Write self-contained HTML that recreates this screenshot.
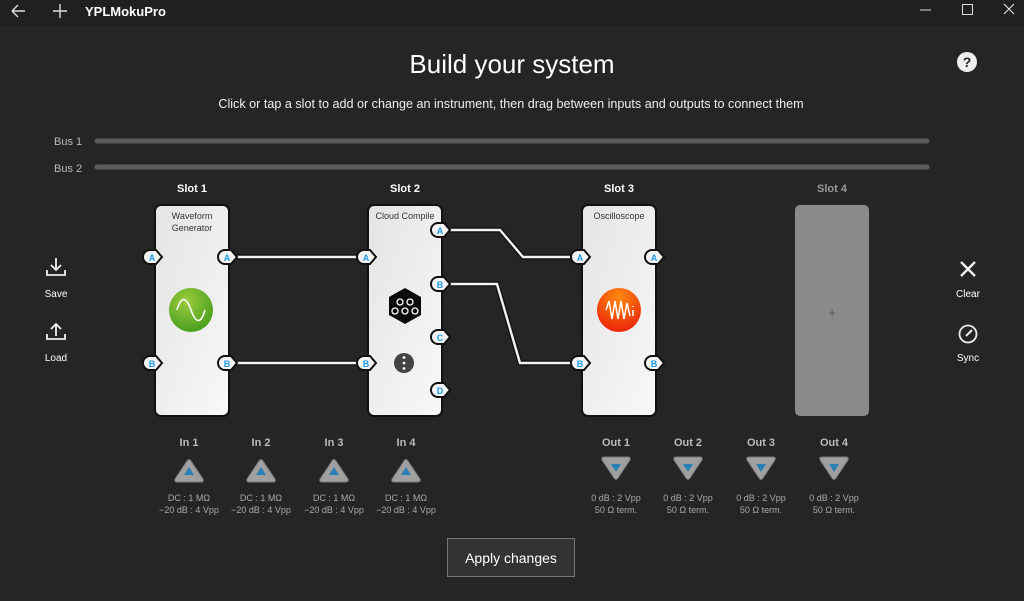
<!DOCTYPE html>
<html><head><meta charset="utf-8"><style>
body{margin:0;width:1024px;height:601px;background:#252525;overflow:hidden;font-family:"Liberation Sans",sans-serif}
svg{display:block}
</style></head><body>
<svg width="1024" height="601" viewBox="0 0 1024 601" font-family="Liberation Sans, sans-serif">
<defs>
<linearGradient id="card" x1="0" y1="0" x2="1" y2="1"><stop offset="0" stop-color="#e4e4e4"/><stop offset="1" stop-color="#f8f8f8"/></linearGradient>
<radialGradient id="grn" cx="0.4" cy="0.3" r="0.8"><stop offset="0" stop-color="#9ccc3c"/><stop offset="1" stop-color="#3f9a1c"/></radialGradient>
<radialGradient id="org" cx="0.5" cy="0.2" r="0.9"><stop offset="0" stop-color="#ff8a10"/><stop offset="1" stop-color="#e81808"/></radialGradient>
<g id="port"><path d="M-3,-7 H3 L9,0 L3,7 H-3 A7,7 0 0 1 -3,-7 Z" fill="#f4f4f4" stroke="#111" stroke-width="2"/></g>
<g id="tri"><path d="M-14,9 L-2,-9 Q0,-12 2,-9 L14,9 Q15,12 12,12 H-12 Q-15,12 -14,9Z" fill="#a0a0a0" stroke="#777" stroke-width="1"/></g>
</defs>
<rect width="1024" height="26" fill="#202020"/>
<path d="M12,11 H25 M12,11 L18,5 M12,11 L18,17" stroke="#ddd" stroke-width="1.4" fill="none"/>
<path d="M53,11 H67 M60,4 V18" stroke="#ddd" stroke-width="1.4"/>
<text x="85" y="16" fill="#fff" font-size="13" font-weight="bold">YPLMokuPro</text>
<path d="M920,10 H931" stroke="#ddd"/><rect x="962.5" y="4.5" width="10" height="10" fill="none" stroke="#ddd"/>
<path d="M1004,4 L1014,14 M1014,4 L1004,14" stroke="#ddd" stroke-width="1.2"/>
<text x="512" y="73" fill="#fff" font-size="26" text-anchor="middle">Build your system</text>
<text x="511" y="108" fill="#eee" font-size="12.6" text-anchor="middle">Click or tap a slot to add or change an instrument, then drag between inputs and outputs to connect them</text>
<circle cx="967" cy="62" r="10" fill="#eee"/><text x="967" y="67" font-size="14" font-weight="bold" text-anchor="middle" fill="#222">?</text>
<text x="54" y="145" fill="#bbb" font-size="11">Bus 1</text><text x="54" y="172" fill="#bbb" font-size="11">Bus 2</text>
<line x1="97" y1="141" x2="927" y2="141" stroke="#5c5c5c" stroke-width="5" stroke-linecap="round"/>
<line x1="97" y1="167" x2="927" y2="167" stroke="#5c5c5c" stroke-width="5" stroke-linecap="round"/>
<g font-size="11" font-weight="bold" text-anchor="middle"><text x="192" y="192" fill="#fff">Slot 1</text><text x="405" y="192" fill="#fff">Slot 2</text><text x="619" y="192" fill="#fff">Slot 3</text><text x="832" y="192" fill="#999">Slot 4</text></g>
<g stroke="#eee" stroke-width="1.8" fill="none"><path d="M56,258 V270 M51,265 L56,270 L61,265 M47,270 V275 H65 V270"/><path d="M56,336 V324 M51,329 L56,324 L61,329 M47,334 V339 H65 V334"/></g>
<text x="56" y="297" fill="#fff" font-size="10" text-anchor="middle">Save</text><text x="56" y="361" fill="#fff" font-size="10" text-anchor="middle">Load</text>
<path d="M961,262 L975,276 M975,262 L961,276" stroke="#eee" stroke-width="2.4"/>
<text x="968" y="297" fill="#fff" font-size="10" text-anchor="middle">Clear</text>
<circle cx="968" cy="334" r="8.5" fill="none" stroke="#eee" stroke-width="1.8"/><path d="M966,336 L972,330" stroke="#eee" stroke-width="2"/>
<text x="968" y="361" fill="#fff" font-size="10" text-anchor="middle">Sync</text>
<g stroke="#111" stroke-width="5" fill="none"><path d="M237,257 H360"/><path d="M237,363 H360"/><path d="M450,230 H500 L523,257 H575"/><path d="M450,284 H497 L520,363 H575"/></g>
<g stroke="#f2f2f2" stroke-width="2.4" fill="none"><path d="M237,257 H360"/><path d="M237,363 H360"/><path d="M450,230 H500 L523,257 H575"/><path d="M450,284 H497 L520,363 H575"/></g>
<g stroke="#111" stroke-width="2"><rect x="155" y="205" width="74" height="211" rx="6" fill="url(#card)"/><rect x="368" y="205" width="74" height="211" rx="6" fill="url(#card)"/><rect x="582" y="205" width="74" height="211" rx="6" fill="url(#card)"/></g>
<rect x="795" y="205" width="74" height="211" rx="5" fill="#8a8a8a"/>
<text x="832" y="317" fill="#555" font-size="13" text-anchor="middle">+</text>
<g font-size="9" fill="#333" text-anchor="middle"><text x="192" y="219">Waveform</text><text x="192" y="231">Generator</text><text x="405" y="219">Cloud Compile</text><text x="619" y="219">Oscilloscope</text></g>
<circle cx="191" cy="310" r="22" fill="url(#grn)"/>
<path d="M177,310 C181,296 186,296 191,310 C196,324 201,324 205,310" stroke="#fff" stroke-width="1.6" fill="none"/>
<path d="M405,288 L421,297 V315 L405,324 L389,315 V297Z" fill="#0b0b0b"/>
<g stroke="#fff" stroke-width="1.3" fill="none"><circle cx="400" cy="302" r="3"/><circle cx="410" cy="302" r="3"/><circle cx="395" cy="311" r="3"/><circle cx="405" cy="311" r="3"/><circle cx="415" cy="311" r="3"/></g>
<circle cx="404" cy="363" r="10" fill="#444"/><g fill="#fff"><circle cx="404" cy="357.5" r="1.4"/><circle cx="404" cy="363" r="1.4"/><circle cx="404" cy="368.5" r="1.4"/></g>
<circle cx="619" cy="310" r="22" fill="url(#org)"/>
<path d="M606,310 L609,301 L612,319 L615,301 L618,319 L621,301 L624,319 L627,303 L630,316 M633,310 V316 M633,306 V307" stroke="#fff" stroke-width="1.5" fill="none"/>
<g>
<use href="#port" x="153" y="257"/><use href="#port" x="153" y="363"/><use href="#port" x="228" y="257"/><use href="#port" x="228" y="363"/>
<use href="#port" x="367" y="257"/><use href="#port" x="367" y="363"/><use href="#port" x="441" y="230"/><use href="#port" x="441" y="284"/><use href="#port" x="441" y="337"/><use href="#port" x="441" y="390"/>
<use href="#port" x="581" y="257"/><use href="#port" x="581" y="363"/><use href="#port" x="655" y="257"/><use href="#port" x="655" y="363"/>
</g>
<g font-size="9" font-weight="bold" fill="#1e9ae8" text-anchor="middle">
<text x="152" y="261">A</text><text x="152" y="367">B</text><text x="227" y="261">A</text><text x="227" y="367">B</text>
<text x="366" y="261">A</text><text x="366" y="367">B</text><text x="440" y="234">A</text><text x="440" y="288">B</text><text x="440" y="341">C</text><text x="440" y="394">D</text>
<text x="580" y="261">A</text><text x="580" y="367">B</text><text x="654" y="261">A</text><text x="654" y="367">B</text>
</g>
<g font-size="11" font-weight="bold" fill="#bbb" text-anchor="middle">
<text x="189" y="446">In 1</text><text x="261" y="446">In 2</text><text x="334" y="446">In 3</text><text x="406" y="446">In 4</text>
<text x="616" y="446">Out 1</text><text x="688" y="446">Out 2</text><text x="761" y="446">Out 3</text><text x="834" y="446">Out 4</text>
</g>
<g><use href="#tri" x="189" y="470"/><use href="#tri" x="261" y="470"/><use href="#tri" x="334" y="470"/><use href="#tri" x="406" y="470"/>
<use href="#tri" transform="translate(616,469) rotate(180)"/><use href="#tri" transform="translate(688,469) rotate(180)"/><use href="#tri" transform="translate(761,469) rotate(180)"/><use href="#tri" transform="translate(834,469) rotate(180)"/></g>
<g fill="#2a7fb5"><path d="M184,475 L189,467 L194,475Z"/><path d="M256,475 L261,467 L266,475Z"/><path d="M329,475 L334,467 L339,475Z"/><path d="M401,475 L406,467 L411,475Z"/>
<path d="M611,464 L616,472 L621,464Z"/><path d="M683,464 L688,472 L693,464Z"/><path d="M756,464 L761,472 L766,464Z"/><path d="M829,464 L834,472 L839,464Z"/></g>
<g font-size="9" fill="#aaa" text-anchor="middle">
<text x="189" y="501">DC : 1 MΩ</text><text x="189" y="513">−20 dB : 4 Vpp</text>
<text x="261" y="501">DC : 1 MΩ</text><text x="261" y="513">−20 dB : 4 Vpp</text>
<text x="334" y="501">DC : 1 MΩ</text><text x="334" y="513">−20 dB : 4 Vpp</text>
<text x="406" y="501">DC : 1 MΩ</text><text x="406" y="513">−20 dB : 4 Vpp</text>
<text x="616" y="501">0 dB : 2 Vpp</text><text x="616" y="513">50 Ω term.</text>
<text x="688" y="501">0 dB : 2 Vpp</text><text x="688" y="513">50 Ω term.</text>
<text x="761" y="501">0 dB : 2 Vpp</text><text x="761" y="513">50 Ω term.</text>
<text x="834" y="501">0 dB : 2 Vpp</text><text x="834" y="513">50 Ω term.</text>
</g>
<rect x="447.5" y="538.5" width="127" height="38" fill="#333" stroke="#777"/>
<text x="511" y="563" fill="#fff" font-size="14" text-anchor="middle">Apply changes</text>
</svg>
</body></html>
